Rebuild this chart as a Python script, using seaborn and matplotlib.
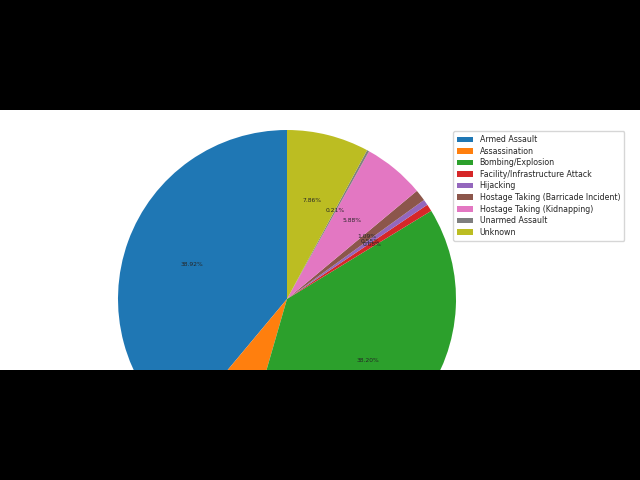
import seaborn as sns
import matplotlib
matplotlib.use('Agg')
import matplotlib.pyplot as plt
from matplotlib.patches import Rectangle

# attack types and their share (percent)
attack_types = ['Armed Assault', 'Assassination', 'Bombing/Explosion',
                'Facility/Infrastructure Attack', 'Hijacking',
                'Hostage Taking (Barricade Incident)', 'Hostage Taking (Kidnapping)',
                'Unarmed Assault', 'Unknown']
shares = [38.92, 6.61, 38.20, 0.68, 0.55, 1.09, 5.88, 0.21, 7.86]

sns.set_style("white")
colors = sns.color_palette("tab10", len(attack_types))

fig = plt.figure(figsize=(6.4, 4.8), dpi=100)
fig.patch.set_facecolor('white')

# pie axes, pie is bigger than the visible area and gets cut at the bottom
ax = fig.add_axes([118/640, 12/480, 338/640, 338/480])
wedges, texts, autotexts = ax.pie(shares, colors=colors, startangle=90,
                                  autopct='%1.2f%%', textprops={'fontsize': 4.3},
                                  wedgeprops={'linewidth': 0, 'edgecolor': 'none'})
ax.set_xlim(-1, 1)
ax.set_ylim(-1, 1)
ax.set_aspect('equal')

fig.legend(wedges, attack_types, loc='upper left',
           bbox_to_anchor=(453/640, 1 - 131/480), fontsize=5.7,
           labelspacing=0.32, borderpad=0.55,
           frameon=True, fancybox=True, borderaxespad=0)

# black letterbox bars of the screen capture
fig.add_artist(Rectangle((0, 0), 1, 110/480, transform=fig.transFigure,
                         facecolor='black', edgecolor='none', zorder=10))
fig.add_artist(Rectangle((0, 370/480), 1, 110/480, transform=fig.transFigure,
                         facecolor='black', edgecolor='none', zorder=10))

fig.savefig('out.png', dpi=100, facecolor=fig.get_facecolor())
